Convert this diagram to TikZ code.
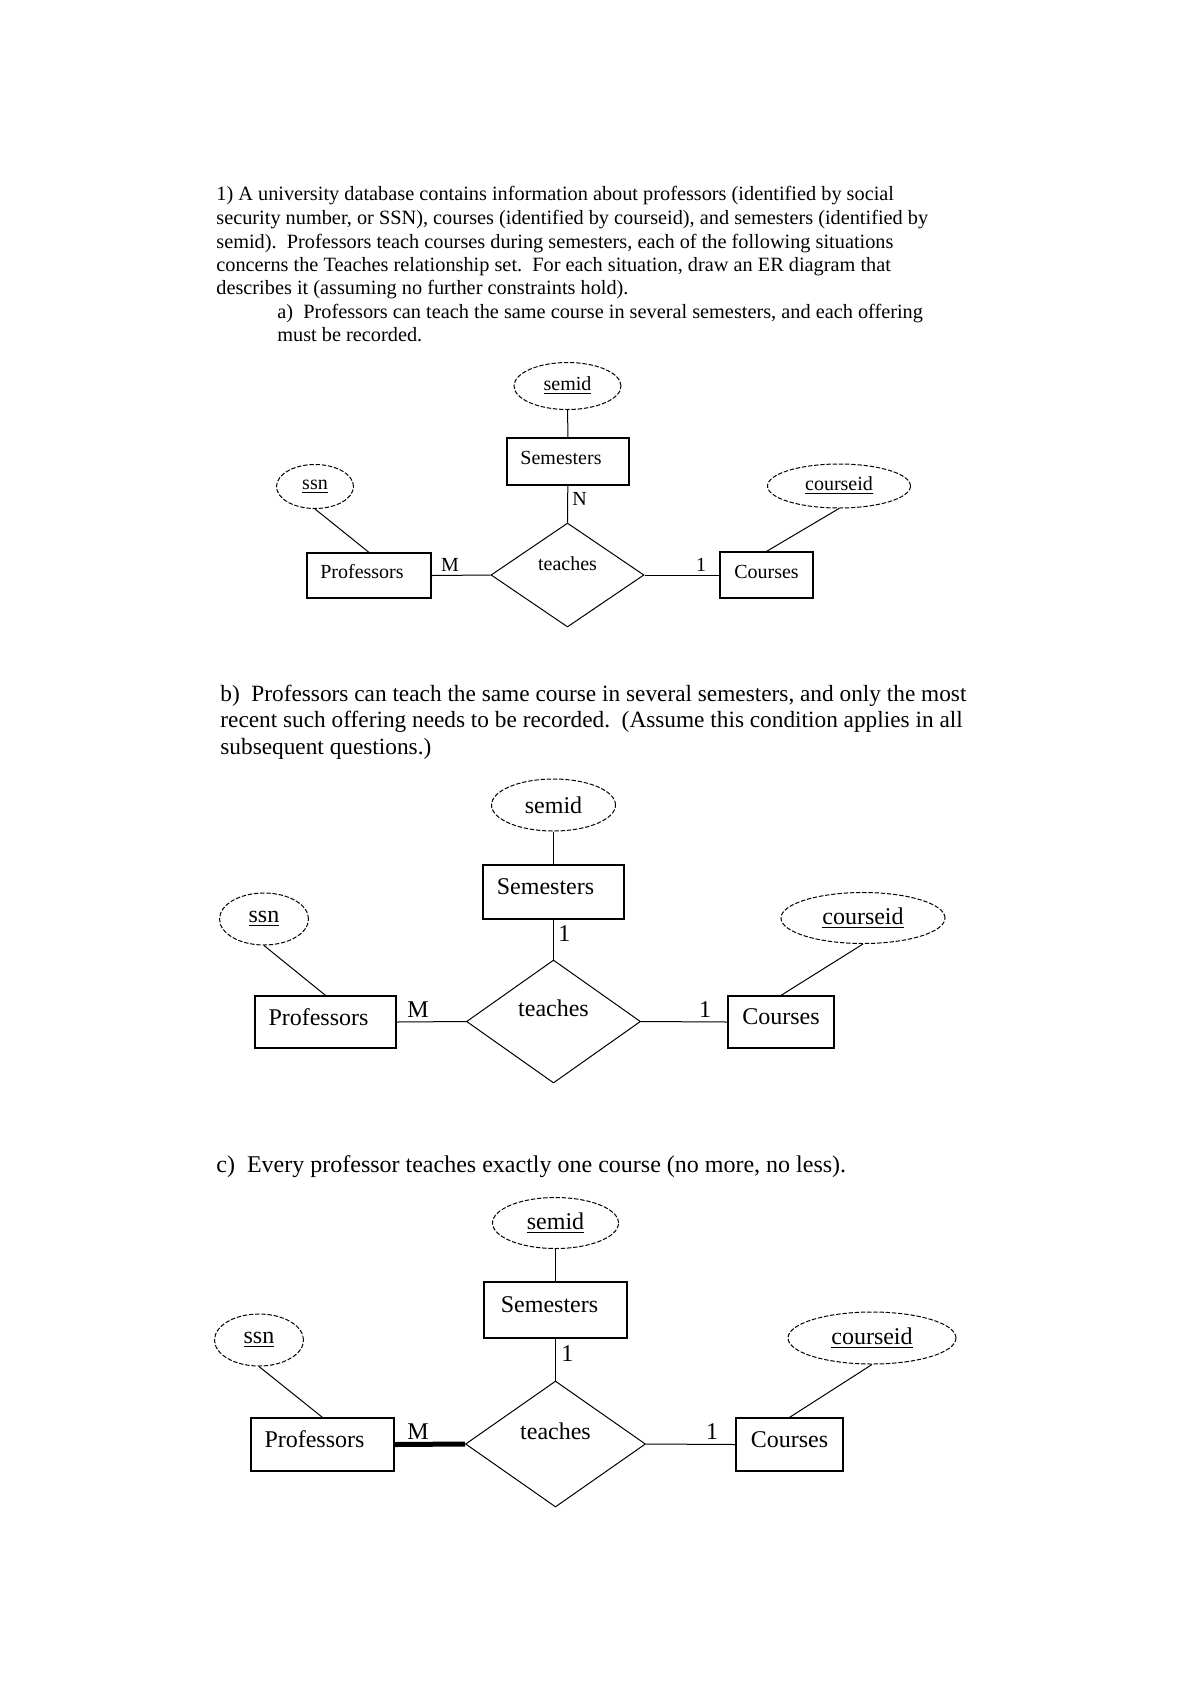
\documentclass[tikz,border=0pt]{standalone}
\usepackage{fontspec}
\setmainfont{Liberation Serif}
\usetikzlibrary{shapes.geometric}
\newcommand{\padr}[1]{\rule{#1}{0pt}}
\newcommand{\liftup}[2]{\raisebox{#1}[\height][\depth]{#2}}
\begin{document}
\begin{tikzpicture}[x=0.5pt,y=-0.5pt,
  ent/.style={draw,line width=0.6pt,rectangle,inner sep=0pt},
  attr/.style={draw,ellipse,line width=0.5pt,dash pattern=on 2.2pt off 0.9pt,inner sep=0pt},
  rel/.style={draw,diamond,line width=0.5pt,inner sep=0pt},
  txt/.style={inner sep=0pt},
  para/.style={anchor=base west,inner sep=0pt},
  conn/.style={line width=0.5pt},
  fa/.style={font=\fontsize{10}{12}\selectfont},
  fp/.style={font=\fontsize{10.15}{12}\selectfont},
  fq/.style={font=\fontsize{11.65}{14}\selectfont},
  fb/.style={font=\fontsize{12}{14}\selectfont}]
\useasboundingbox[fill=white] (0,0) rectangle (1200,1698);

% ---------- intro text ----------
\begin{scope}[every node/.style={fp}]
\node[para] (p1) at (216,200) {1) A university database contains information about professors (identified by social};
\node[para] (p2) at (216,224) {security number, or SSN), courses (identified by courseid), and semesters (identified by};
\node[para] (p3) at (216,248) {semid).\ \ Professors teach courses during semesters, each of the following situations};
\node[para] (p4) at (216,271) {concerns the Teaches relationship set.\ \ For each situation, draw an ER diagram that};
\node[para] (p5) at (216,294) {describes it (assuming no further constraints hold).};
\node[para] (p6) at (277,318) {a)\ \ Professors can teach the same course in several semesters, and each offering};
\node[para] (p7) at (277,341) {must be recorded.};
\end{scope}

% ---------- diagram a ----------
\node[attr,fa,minimum width=53.5pt,minimum height=23.5pt] (aSid) at (567.5,386) {\underline{semid}};
\node[ent,fa,minimum width=61pt,minimum height=23.5pt] (aSem) at (568,461.5) {\liftup{2pt}{Semesters}\padr{7pt}};
\node[rel,minimum width=76.5pt,minimum height=52pt] (aRel) at (567.5,575) {};
\node[txt,fa] (aRelT) at (567.5,564) {teaches};
\node[ent,fa,minimum width=62pt,minimum height=22.5pt] (aProf) at (369,575.5) {\liftup{2pt}{Professors}\padr{7pt}};
\node[ent,fa,minimum width=46.5pt,minimum height=23pt] (aCou) at (766.5,575) {\liftup{1.5pt}{Courses}};
\node[attr,fa,minimum width=38.5pt,minimum height=22pt] (aSsn) at (315,486.5) {\underline{ssn}};
\node[attr,fa,minimum width=71.5pt,minimum height=22pt] (aCid) at (839,486) {\underline{courseid}};
\node[txt,fa,anchor=west] (aN) at (572,499) {N};
\node[txt,fa] (aM) at (450,565) {M};
\node[txt,fa] (a1) at (701,565) {1};
\draw[conn] (aSid) -- (aSem);
\draw[conn] (aSem) -- (aRel.north);
\draw[conn] (aProf.east) -- (aRel.west);
\draw[conn] (aRel.east) -- (aCou.west);
\draw[conn] (aSsn.south) -- (aProf.north);
\draw[conn] (aCid.south) -- (aCou.north);

% ---------- text b ----------
\begin{scope}[every node/.style={fq}]
\node[para] (q1) at (220,701) {b)\ \ Professors can teach the same course in several semesters, and only the most};
\node[para] (q2) at (220,727) {recent such offering needs to be recorded.\ \ (Assume this condition applies in all};
\node[para] (q3) at (220,754) {subsequent questions.)};
\end{scope}

% ---------- diagram b ----------
\node[attr,fb,minimum width=62pt,minimum height=26pt] (bSid) at (553.5,805) {semid};
\node[ent,fb,minimum width=70.5pt,minimum height=27pt] (bSem) at (553.5,892) {\liftup{2.5pt}{Semesters}\padr{8pt}};
\node[rel,minimum width=87pt,minimum height=61.5pt] (bRel) at (553.5,1021.5) {};
\node[txt,fb] (bRelT) at (553.5,1008) {teaches};
\node[ent,fb,minimum width=70.5pt,minimum height=26pt] (bProf) at (325.5,1022) {\liftup{2.5pt}{Professors}\padr{7pt}};
\node[ent,fb,minimum width=53pt,minimum height=26pt] (bCou) at (781,1022) {\liftup{2.5pt}{Courses}};
\node[attr,fb,minimum width=44.5pt,minimum height=26pt] (bSsn) at (264,919) {\underline{ssn}};
\node[attr,fb,minimum width=82pt,minimum height=25.5pt] (bCid) at (863,918) {\underline{courseid}};
\node[txt,fb,anchor=west] (b1s) at (558,934) {1};
\node[txt,fb] (bM) at (418,1010) {M};
\node[txt,fb] (b1) at (705,1010) {1};
\draw[conn] (bSid) -- (bSem);
\draw[conn] (bSem) -- (bRel.north);
\draw[conn] (bProf.east) -- (bRel.west);
\draw[conn] (bRel.east) -- (bCou.west);
\draw[conn] (bSsn.south) -- (bProf.north);
\draw[conn] (bCid.south) -- (bCou.north);

% ---------- text c ----------
\node[para,fb] (r1) at (216,1172) {c)\ \ Every professor teaches exactly one course (no more, no less).};

% ---------- diagram c ----------
\node[attr,fb,minimum width=63pt,minimum height=25.5pt] (cSid) at (555.5,1223) {\underline{semid}};
\node[ent,fb,minimum width=71.5pt,minimum height=28pt] (cSem) at (555.5,1310) {\liftup{2.5pt}{Semesters}\padr{6pt}};
\node[rel,minimum width=90pt,minimum height=63pt] (cRel) at (555.5,1444) {};
\node[txt,fb] (cRelT) at (555.5,1431) {teaches};
\node[ent,fb,minimum width=71.5pt,minimum height=26.5pt] (cProf) at (322.5,1444.5) {\liftup{2.5pt}{Professors}\padr{8pt}};
\node[ent,fb,minimum width=53.5pt,minimum height=26.5pt] (cCou) at (789.5,1444.5) {\liftup{2.5pt}{Courses}};
\node[attr,fb,minimum width=44.5pt,minimum height=26pt] (cSsn) at (259,1340) {\underline{ssn}};
\node[attr,fb,minimum width=84pt,minimum height=26pt] (cCid) at (872,1338) {\underline{courseid}};
\node[txt,fb,anchor=west] (c1s) at (561,1354) {1};
\node[txt,fb] (cM) at (418,1432) {M};
\node[txt,fb] (c1) at (712,1432) {1};
\draw[conn] (cSid) -- (cSem);
\draw[conn] (cSem) -- (cRel.north);
\draw[line width=2.5pt] (cProf.east) -- (cRel.west);
\draw[conn] (cRel.east) -- (cCou.west);
\draw[conn] (cSsn.south) -- (cProf.north);
\draw[conn] (cCid.south) -- (cCou.north);
\end{tikzpicture}
\end{document}
